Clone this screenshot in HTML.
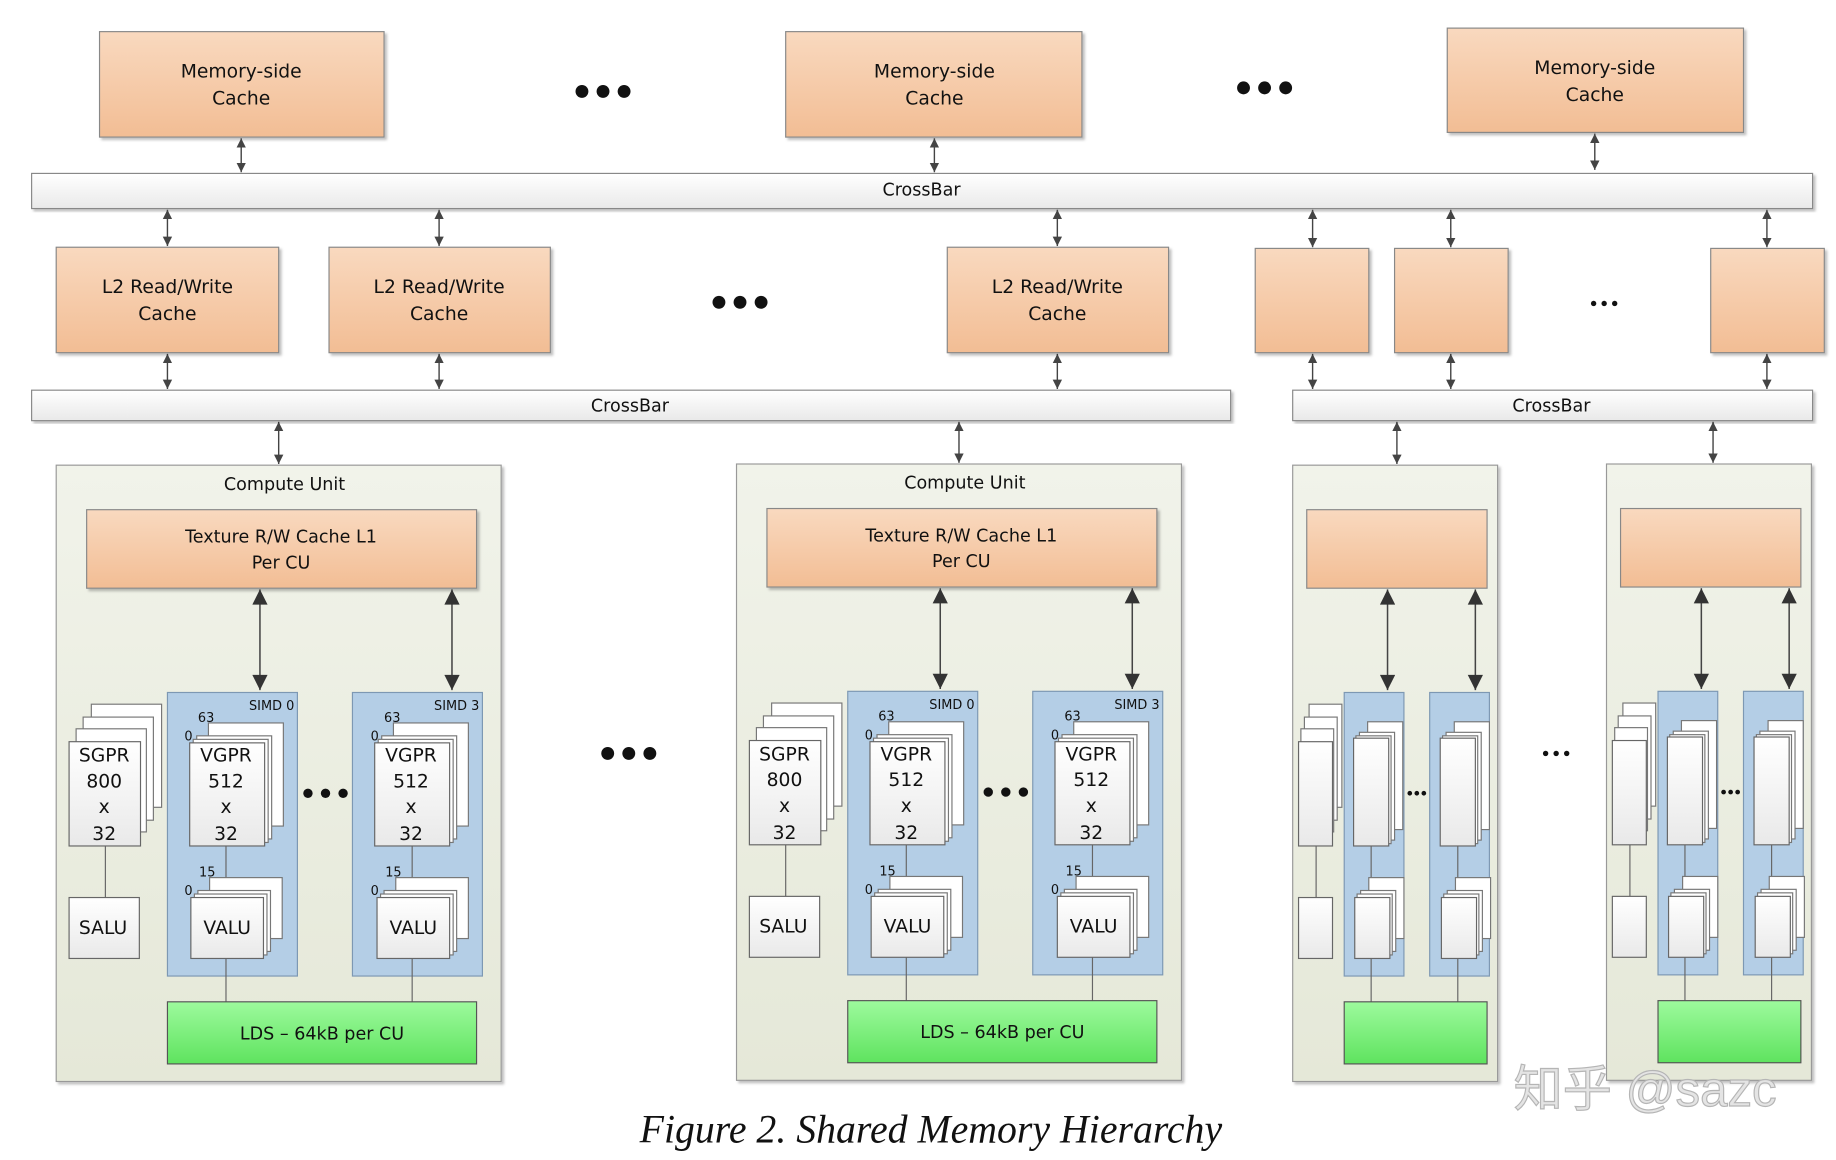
<!DOCTYPE html>
<html><head><meta charset="utf-8"><style>
html,body{margin:0;padding:0;background:#fff;}
svg{display:block;}
text{font-family:"DejaVu Sans","Liberation Sans",sans-serif;fill:#111;}
</style></head><body>
<svg width="1836" height="1160" viewBox="0 0 1568 990" preserveAspectRatio="none" xmlns="http://www.w3.org/2000/svg">
<defs>
<linearGradient id="og" x1="0" y1="0" x2="0" y2="1"><stop offset="0" stop-color="#f9d9bf"/><stop offset="1" stop-color="#f2bd94"/></linearGradient>
<linearGradient id="wg" x1="0" y1="0" x2="0" y2="1"><stop offset="0" stop-color="#ffffff"/><stop offset="1" stop-color="#e9e9e9"/></linearGradient>
<linearGradient id="gg" x1="0" y1="0" x2="0" y2="1"><stop offset="0" stop-color="#9dfa9d"/><stop offset="1" stop-color="#5fe35f"/></linearGradient>
<linearGradient id="cg" x1="0" y1="0" x2="0" y2="1"><stop offset="0" stop-color="#f1f3ea"/><stop offset="1" stop-color="#e5e8d8"/></linearGradient>
<marker id="s" viewBox="0 0 10 10" refX="10" refY="5" markerWidth="8" markerHeight="9" markerUnits="userSpaceOnUse" orient="auto-start-reverse"><path d="M0,0 L10,5 L0,10 z" fill="#444"/></marker>
<marker id="b" viewBox="0 0 10 10" refX="10" refY="5" markerWidth="16" markerHeight="13" markerUnits="userSpaceOnUse" orient="auto-start-reverse"><path d="M0,0 L10,5 L0,10 z" fill="#333"/></marker>
<filter id="sh" x="-5%" y="-5%" width="115%" height="115%"><feDropShadow dx="2" dy="2" stdDeviation="1.2" flood-color="#000" flood-opacity="0.25"/></filter>
<g id="vstack">
 <rect x="16" y="-17" width="64" height="88" fill="#fff" stroke="#777"/>
 <rect x="6" y="-6" width="64" height="88" fill="#fff" stroke="#777"/>
 <rect x="3" y="-3" width="64" height="88" fill="#fff" stroke="#777"/>
 <rect x="0" y="0" width="64" height="88" fill="url(#wg)" stroke="#666"/>
</g>
<g id="astack">
 <rect x="16" y="-17" width="62" height="52" fill="#fff" stroke="#777"/>
 <rect x="6" y="-6" width="62" height="52" fill="#fff" stroke="#777"/>
 <rect x="3" y="-3" width="62" height="52" fill="#fff" stroke="#777"/>
 <rect x="0" y="0" width="62" height="52" fill="url(#wg)" stroke="#666"/>
</g>
<g id="cu">
 <rect x="48" y="397" width="380" height="526" fill="url(#cg)" stroke="#999" filter="url(#sh)"/>
 <rect x="74" y="435" width="333" height="67" fill="url(#og)" stroke="#888" filter="url(#sh)"/>
 <line x1="222" y1="503" x2="222" y2="589" stroke="#444" stroke-width="1.3" marker-start="url(#b)" marker-end="url(#b)"/>
 <line x1="386" y1="503" x2="386" y2="589" stroke="#444" stroke-width="1.3" marker-start="url(#b)" marker-end="url(#b)"/>
 <rect x="78" y="601" width="60" height="88" fill="#fff" stroke="#777"/>
 <rect x="71" y="612" width="60" height="88" fill="#fff" stroke="#777"/>
 <rect x="65" y="622" width="60" height="88" fill="#fff" stroke="#777"/>
 <rect x="59" y="633" width="61" height="89" fill="url(#wg)" stroke="#666"/>
 <line x1="90" y1="722" x2="90" y2="766" stroke="#666"/>
 <rect x="59" y="766" width="60" height="52" fill="url(#wg)" stroke="#666"/>
 <rect x="143" y="591" width="111" height="242" fill="#b4cee6" stroke="#7d98b3"/>
 <rect x="301" y="591" width="111" height="242" fill="#b4cee6" stroke="#7d98b3"/>
 <line x1="193" y1="722" x2="193" y2="855" stroke="#666"/>
 <line x1="352" y1="722" x2="352" y2="855" stroke="#666"/>
 <use href="#vstack" x="162" y="634"/>
 <use href="#vstack" x="320" y="634"/>
 <use href="#astack" x="163" y="766"/>
 <use href="#astack" x="322" y="766"/>
 <rect x="143" y="855" width="264" height="53" fill="url(#gg)" stroke="#555"/>
 <circle cx="263" cy="677" r="4" fill="#111"/><circle cx="278" cy="677" r="4" fill="#111"/><circle cx="293" cy="677" r="4" fill="#111"/>
</g>
<g id="vs2">
 <rect x="12" y="-14" width="30" height="92" fill="#fff" stroke="#777"/>
 <rect x="5" y="-5" width="30" height="92" fill="#fff" stroke="#777"/>
 <rect x="2" y="-2" width="30" height="92" fill="#fff" stroke="#777"/>
 <rect x="0" y="0" width="30" height="92" fill="url(#wg)" stroke="#666"/>
</g>
<g id="as2">
 <rect x="12" y="-17" width="30" height="52" fill="#fff" stroke="#777"/>
 <rect x="5" y="-6" width="30" height="52" fill="#fff" stroke="#777"/>
 <rect x="2" y="-3" width="30" height="52" fill="#fff" stroke="#777"/>
 <rect x="0" y="0" width="30" height="52" fill="url(#wg)" stroke="#666"/>
</g>
<g id="cus">
 <rect x="1104" y="397" width="175" height="526" fill="url(#cg)" stroke="#999" filter="url(#sh)"/>
 <rect x="1116" y="435" width="154" height="67" fill="url(#og)" stroke="#888"/>
 <line x1="1185" y1="503" x2="1185" y2="589" stroke="#444" stroke-width="1.3" marker-start="url(#b)" marker-end="url(#b)"/>
 <line x1="1260" y1="503" x2="1260" y2="589" stroke="#444" stroke-width="1.3" marker-start="url(#b)" marker-end="url(#b)"/>
 <rect x="1118" y="601" width="28" height="88" fill="#fff" stroke="#777"/>
 <rect x="1114" y="612" width="28" height="88" fill="#fff" stroke="#777"/>
 <rect x="1111" y="622" width="28" height="88" fill="#fff" stroke="#777"/>
 <rect x="1109" y="633" width="29" height="89" fill="url(#wg)" stroke="#666"/>
 <line x1="1124" y1="722" x2="1124" y2="766" stroke="#666"/>
 <rect x="1109" y="766" width="29" height="52" fill="url(#wg)" stroke="#666"/>
 <rect x="1148" y="591" width="51" height="242" fill="#b4cee6" stroke="#7d98b3"/>
 <rect x="1221" y="591" width="51" height="242" fill="#b4cee6" stroke="#7d98b3"/>
 <line x1="1171" y1="722" x2="1171" y2="855" stroke="#666"/>
 <line x1="1245" y1="722" x2="1245" y2="855" stroke="#666"/>
 <use href="#vs2" x="1156" y="630"/>
 <use href="#vs2" x="1230" y="630"/>
 <use href="#as2" x="1157" y="766"/>
 <use href="#as2" x="1231" y="766"/>
 <rect x="1148" y="855" width="122" height="53" fill="url(#gg)" stroke="#555"/>
 <circle cx="1204" cy="677" r="2" fill="#111"/><circle cx="1210" cy="677" r="2" fill="#111"/><circle cx="1216" cy="677" r="2" fill="#111"/>
</g>
</defs>

<!-- Memory-side caches -->
<g filter="url(#sh)">
<rect x="85" y="27" width="243" height="90" fill="url(#og)" stroke="#888"/>
<rect x="671" y="27" width="253" height="90" fill="url(#og)" stroke="#888"/>
<rect x="1236" y="24" width="253" height="89" fill="url(#og)" stroke="#888"/>
</g>
<text x="206" y="66" font-size="16" text-anchor="middle">Memory-side</text>
<text x="206" y="89" font-size="16" text-anchor="middle">Cache</text>
<text x="798" y="66" font-size="16" text-anchor="middle">Memory-side</text>
<text x="798" y="89" font-size="16" text-anchor="middle">Cache</text>
<text x="1362" y="63" font-size="16" text-anchor="middle">Memory-side</text>
<text x="1362" y="86" font-size="16" text-anchor="middle">Cache</text>
<circle cx="497" cy="78" r="5.5" fill="#111"/><circle cx="515" cy="78" r="5.5" fill="#111"/><circle cx="533" cy="78" r="5.5" fill="#111"/>
<circle cx="1062" cy="75" r="5.5" fill="#111"/><circle cx="1080" cy="75" r="5.5" fill="#111"/><circle cx="1098" cy="75" r="5.5" fill="#111"/>

<!-- crossbar top -->
<rect x="27" y="148" width="1521" height="30" fill="url(#wg)" stroke="#888" filter="url(#sh)"/>
<text x="787" y="167" font-size="15" text-anchor="middle">CrossBar</text>
<g stroke="#444" stroke-width="1.2">
<line x1="206" y1="118" x2="206" y2="147" marker-start="url(#s)" marker-end="url(#s)"/>
<line x1="798" y1="118" x2="798" y2="147" marker-start="url(#s)" marker-end="url(#s)"/>
<line x1="1362" y1="114" x2="1362" y2="145" marker-start="url(#s)" marker-end="url(#s)"/>
<line x1="143" y1="179" x2="143" y2="210" marker-start="url(#s)" marker-end="url(#s)"/>
<line x1="375" y1="179" x2="375" y2="210" marker-start="url(#s)" marker-end="url(#s)"/>
<line x1="903" y1="179" x2="903" y2="210" marker-start="url(#s)" marker-end="url(#s)"/>
<line x1="1121" y1="179" x2="1121" y2="211" marker-start="url(#s)" marker-end="url(#s)"/>
<line x1="1239" y1="179" x2="1239" y2="211" marker-start="url(#s)" marker-end="url(#s)"/>
<line x1="1509" y1="179" x2="1509" y2="211" marker-start="url(#s)" marker-end="url(#s)"/>
<line x1="143" y1="302" x2="143" y2="332" marker-start="url(#s)" marker-end="url(#s)"/>
<line x1="375" y1="302" x2="375" y2="332" marker-start="url(#s)" marker-end="url(#s)"/>
<line x1="903" y1="302" x2="903" y2="332" marker-start="url(#s)" marker-end="url(#s)"/>
<line x1="1121" y1="302" x2="1121" y2="332" marker-start="url(#s)" marker-end="url(#s)"/>
<line x1="1239" y1="302" x2="1239" y2="332" marker-start="url(#s)" marker-end="url(#s)"/>
<line x1="1509" y1="302" x2="1509" y2="332" marker-start="url(#s)" marker-end="url(#s)"/>
<line x1="238" y1="360" x2="238" y2="396" marker-start="url(#s)" marker-end="url(#s)"/>
<line x1="819" y1="360" x2="819" y2="395" marker-start="url(#s)" marker-end="url(#s)"/>
<line x1="1193" y1="360" x2="1193" y2="396" marker-start="url(#s)" marker-end="url(#s)"/>
<line x1="1463" y1="360" x2="1463" y2="395" marker-start="url(#s)" marker-end="url(#s)"/>
</g>

<!-- L2 -->
<g filter="url(#sh)">
<rect x="48" y="211" width="190" height="90" fill="url(#og)" stroke="#888"/>
<rect x="281" y="211" width="189" height="90" fill="url(#og)" stroke="#888"/>
<rect x="809" y="211" width="189" height="90" fill="url(#og)" stroke="#888"/>
<rect x="1072" y="212" width="97" height="89" fill="url(#og)" stroke="#888"/>
<rect x="1191" y="212" width="97" height="89" fill="url(#og)" stroke="#888"/>
<rect x="1461" y="212" width="97" height="89" fill="url(#og)" stroke="#888"/>
</g>
<text x="143" y="250" font-size="16" text-anchor="middle">L2 Read/Write</text>
<text x="143" y="273" font-size="16" text-anchor="middle">Cache</text>
<text x="375" y="250" font-size="16" text-anchor="middle">L2 Read/Write</text>
<text x="375" y="273" font-size="16" text-anchor="middle">Cache</text>
<text x="903" y="250" font-size="16" text-anchor="middle">L2 Read/Write</text>
<text x="903" y="273" font-size="16" text-anchor="middle">Cache</text>
<circle cx="614" cy="258" r="5.5" fill="#111"/><circle cx="632" cy="258" r="5.5" fill="#111"/><circle cx="650" cy="258" r="5.5" fill="#111"/>
<circle cx="1361" cy="259" r="2.3" fill="#111"/><circle cx="1370" cy="259" r="2.3" fill="#111"/><circle cx="1379" cy="259" r="2.3" fill="#111"/>

<!-- crossbar 2 -->
<g filter="url(#sh)">
<rect x="27" y="333" width="1024" height="26" fill="url(#wg)" stroke="#888"/>
<rect x="1104" y="333" width="444" height="26" fill="url(#wg)" stroke="#888"/>
</g>
<text x="538" y="351" font-size="15" text-anchor="middle">CrossBar</text>
<text x="1325" y="351" font-size="15" text-anchor="middle">CrossBar</text>

<!-- CUs -->
<use href="#cu"/>
<use href="#cu" x="581" y="-1"/>
<use href="#cus"/>
<use href="#cus" x="268" y="-1"/>
<circle cx="519" cy="643" r="5.5" fill="#111"/><circle cx="537" cy="643" r="5.5" fill="#111"/><circle cx="555" cy="643" r="5.5" fill="#111"/>
<circle cx="1320" cy="643" r="2.3" fill="#111"/><circle cx="1329" cy="643" r="2.3" fill="#111"/><circle cx="1338" cy="643" r="2.3" fill="#111"/>

<g id="t1">
<text x="243" y="418" font-size="15" text-anchor="middle">Compute Unit</text>
<text x="240" y="463" font-size="15" text-anchor="middle">Texture R/W Cache L1</text>
<text x="240" y="485" font-size="15" text-anchor="middle">Per CU</text>
<text x="232" y="606" font-size="11" text-anchor="middle">SIMD 0</text>
<text x="390" y="606" font-size="11" text-anchor="middle">SIMD 3</text>
<text x="176" y="616" font-size="11" text-anchor="middle">63</text><text x="161" y="632" font-size="11" text-anchor="middle">0</text>
<text x="335" y="616" font-size="11" text-anchor="middle">63</text><text x="320" y="632" font-size="11" text-anchor="middle">0</text>
<text x="177" y="748" font-size="11" text-anchor="middle">15</text><text x="161" y="764" font-size="11" text-anchor="middle">0</text>
<text x="336" y="748" font-size="11" text-anchor="middle">15</text><text x="320" y="764" font-size="11" text-anchor="middle">0</text>
<text x="89" y="650" font-size="16" text-anchor="middle">SGPR</text><text x="89" y="672" font-size="16" text-anchor="middle">800</text><text x="89" y="694" font-size="16" text-anchor="middle">x</text><text x="89" y="717" font-size="16" text-anchor="middle">32</text>
<text x="193" y="650" font-size="16" text-anchor="middle">VGPR</text><text x="193" y="672" font-size="16" text-anchor="middle">512</text><text x="193" y="694" font-size="16" text-anchor="middle">x</text><text x="193" y="717" font-size="16" text-anchor="middle">32</text>
<text x="351" y="650" font-size="16" text-anchor="middle">VGPR</text><text x="351" y="672" font-size="16" text-anchor="middle">512</text><text x="351" y="694" font-size="16" text-anchor="middle">x</text><text x="351" y="717" font-size="16" text-anchor="middle">32</text>
<text x="88" y="797" font-size="16" text-anchor="middle">SALU</text>
<text x="194" y="797" font-size="16" text-anchor="middle">VALU</text>
<text x="353" y="797" font-size="16" text-anchor="middle">VALU</text>
<text x="275" y="887" font-size="15" text-anchor="middle">LDS – 64kB per CU</text>
</g>
<g transform="translate(581,-1)">
<text x="243" y="418" font-size="15" text-anchor="middle">Compute Unit</text>
<text x="240" y="463" font-size="15" text-anchor="middle">Texture R/W Cache L1</text>
<text x="240" y="485" font-size="15" text-anchor="middle">Per CU</text>
<text x="232" y="606" font-size="11" text-anchor="middle">SIMD 0</text>
<text x="390" y="606" font-size="11" text-anchor="middle">SIMD 3</text>
<text x="176" y="616" font-size="11" text-anchor="middle">63</text><text x="161" y="632" font-size="11" text-anchor="middle">0</text>
<text x="335" y="616" font-size="11" text-anchor="middle">63</text><text x="320" y="632" font-size="11" text-anchor="middle">0</text>
<text x="177" y="748" font-size="11" text-anchor="middle">15</text><text x="161" y="764" font-size="11" text-anchor="middle">0</text>
<text x="336" y="748" font-size="11" text-anchor="middle">15</text><text x="320" y="764" font-size="11" text-anchor="middle">0</text>
<text x="89" y="650" font-size="16" text-anchor="middle">SGPR</text><text x="89" y="672" font-size="16" text-anchor="middle">800</text><text x="89" y="694" font-size="16" text-anchor="middle">x</text><text x="89" y="717" font-size="16" text-anchor="middle">32</text>
<text x="193" y="650" font-size="16" text-anchor="middle">VGPR</text><text x="193" y="672" font-size="16" text-anchor="middle">512</text><text x="193" y="694" font-size="16" text-anchor="middle">x</text><text x="193" y="717" font-size="16" text-anchor="middle">32</text>
<text x="351" y="650" font-size="16" text-anchor="middle">VGPR</text><text x="351" y="672" font-size="16" text-anchor="middle">512</text><text x="351" y="694" font-size="16" text-anchor="middle">x</text><text x="351" y="717" font-size="16" text-anchor="middle">32</text>
<text x="88" y="797" font-size="16" text-anchor="middle">SALU</text>
<text x="194" y="797" font-size="16" text-anchor="middle">VALU</text>
<text x="353" y="797" font-size="16" text-anchor="middle">VALU</text>
<text x="275" y="887" font-size="15" text-anchor="middle">LDS – 64kB per CU</text>
</g>

<text x="795" y="975" font-size="34" font-style="italic" text-anchor="middle" style="font-family:'Liberation Serif','DejaVu Serif',serif;">Figure 2. Shared Memory Hierarchy</text>
<text x="1405" y="944" font-size="42" text-anchor="middle" style="font-family:'Liberation Sans','Noto Sans CJK SC',sans-serif;fill:#e4e4e4;stroke:#b5b5b5;stroke-width:1;">知乎 @sazc</text>
</svg>
</body></html>
